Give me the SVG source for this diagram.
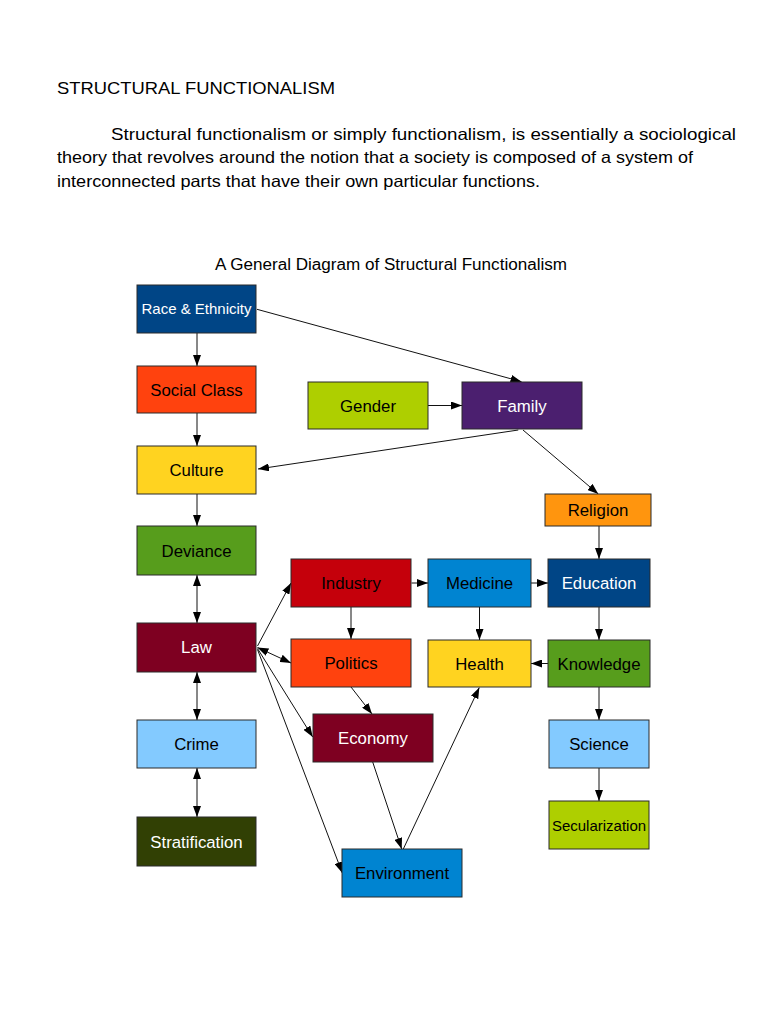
<svg xmlns="http://www.w3.org/2000/svg" width="768" height="1024" viewBox="0 0 768 1024">
<defs>
<style>
.bg{fill:#ffffff}
.doc{font-family:"Liberation Sans",Arial,sans-serif;fill:#000}
.node rect{stroke:#2a2a2a;stroke-width:1}
.node text{font-family:"Liberation Sans",Arial,sans-serif;font-size:16.8px;text-anchor:middle}
.dk{fill:#000}
.lt{fill:#ffffff}
.node text.sm{font-size:15px}
#connectors path{fill:none;stroke:#111;stroke-width:1}
.one{marker-end:url(#ah)}
.two{marker-start:url(#ah);marker-end:url(#ah)}
</style>
<marker id="ah" viewBox="0 0 11 8" refX="11" refY="4" markerWidth="11" markerHeight="8" markerUnits="userSpaceOnUse" orient="auto-start-reverse">
<path d="M0,0 L11,4 L0,8 z" fill="#000"/>
</marker>
</defs>
<rect class="bg" x="0" y="0" width="768" height="1024"/>

<g id="document-text" class="doc">
<text x="57" y="94" font-size="16.5" textLength="278" lengthAdjust="spacingAndGlyphs">STRUCTURAL FUNCTIONALISM</text>
<text x="111" y="139.5" font-size="16.5" textLength="625" lengthAdjust="spacingAndGlyphs">Structural functionalism or simply functionalism, is essentially a sociological</text>
<text x="57" y="163" font-size="16.5" textLength="636" lengthAdjust="spacingAndGlyphs">theory that revolves around the notion that a society is composed of a system of</text>
<text x="57" y="186.5" font-size="16.5" textLength="483" lengthAdjust="spacingAndGlyphs">interconnected parts that have their own particular functions.</text>
<text x="215" y="270" font-size="16" textLength="352" lengthAdjust="spacingAndGlyphs">A General Diagram of Structural Functionalism</text>
</g>

<g id="connectors">
<path class="one" d="M197,333 L197,366"/>
<path class="one" d="M257,309.3 L521.5,381.7"/>
<path class="one" d="M197,413 L197,446"/>
<path class="one" d="M428,405.5 L462,405.5"/>
<path class="one" d="M518.3,430 L258,469"/>
<path class="one" d="M523,430 L598.3,494"/>
<path class="one" d="M197,494 L197,526"/>
<path class="two" d="M197,575 L197,623"/>
<path class="two" d="M197,672 L197,720"/>
<path class="two" d="M197,768 L197,817"/>
<path class="one" d="M257.5,646 L291,583"/>
<path class="two" d="M257.5,647.5 L291,663"/>
<path class="one" d="M257.5,648.5 L312.7,737"/>
<path class="one" d="M257.5,649.5 L342.3,873"/>
<path class="one" d="M351,607 L351,639"/>
<path class="one" d="M411.5,583 L428,583"/>
<path class="one" d="M351,687 L372,714"/>
<path class="one" d="M531,583 L548,583"/>
<path class="one" d="M479.5,607 L479.5,640"/>
<path class="one" d="M599,526 L599,559"/>
<path class="one" d="M599,607 L599,640"/>
<path class="one" d="M548,663.5 L531,663.5"/>
<path class="one" d="M599,687 L599,720"/>
<path class="one" d="M599,768 L599,801"/>
<path class="one" d="M372.7,762 L401.7,849"/>
<path class="one" d="M403.3,849 L479.3,687.5"/>
</g>

<g id="race" class="node"><rect x="137" y="285" width="119" height="48" fill="#004586"/><text class="lt sm" x="196.5" y="314">Race &amp; Ethnicity</text></g>
<g id="social-class" class="node"><rect x="137" y="366" width="119" height="47" fill="#ff420e"/><text class="dk" x="196.5" y="395.5">Social Class</text></g>
<g id="culture" class="node"><rect x="137" y="446" width="119" height="48" fill="#ffd320"/><text class="dk" x="196.5" y="476">Culture</text></g>
<g id="deviance" class="node"><rect x="137" y="526" width="119" height="49" fill="#579d1c"/><text class="dk" x="196.5" y="556.5">Deviance</text></g>
<g id="law" class="node"><rect x="137" y="623" width="119" height="49" fill="#7e0021"/><text class="lt" x="196.5" y="653">Law</text></g>
<g id="crime" class="node"><rect x="137" y="720" width="119" height="48" fill="#83caff"/><text class="dk" x="196.5" y="750">Crime</text></g>
<g id="stratification" class="node"><rect x="137" y="817" width="119" height="49" fill="#314004"/><text class="lt" x="196.5" y="847.5">Stratification</text></g>
<g id="gender" class="node"><rect x="308" y="382" width="120" height="47" fill="#aecf00"/><text class="dk" x="368" y="411.5">Gender</text></g>
<g id="family" class="node"><rect x="462" y="382" width="120" height="47" fill="#4b1f6f"/><text class="lt" x="522" y="411.5">Family</text></g>
<g id="religion" class="node"><rect x="545" y="494" width="106" height="32" fill="#ff950e"/><text class="dk" x="598" y="516">Religion</text></g>
<g id="industry" class="node"><rect x="291" y="559" width="120" height="48" fill="#c5000b"/><text class="dk" x="351" y="589">Industry</text></g>
<g id="medicine" class="node"><rect x="428" y="559" width="103" height="48" fill="#0084d1"/><text class="dk" x="479.5" y="589">Medicine</text></g>
<g id="education" class="node"><rect x="548" y="559" width="102" height="48" fill="#004586"/><text class="lt" x="599" y="589">Education</text></g>
<g id="politics" class="node"><rect x="291" y="639" width="120" height="48" fill="#ff420e"/><text class="dk" x="351" y="669">Politics</text></g>
<g id="health" class="node"><rect x="428" y="640" width="103" height="47" fill="#ffd320"/><text class="dk" x="479.5" y="669.5">Health</text></g>
<g id="knowledge" class="node"><rect x="548" y="640" width="102" height="47" fill="#579d1c"/><text class="dk" x="599" y="669.5">Knowledge</text></g>
<g id="economy" class="node"><rect x="313" y="714" width="120" height="48" fill="#7e0021"/><text class="lt" x="373" y="744">Economy</text></g>
<g id="science" class="node"><rect x="549" y="720" width="100" height="48" fill="#83caff"/><text class="dk" x="599" y="750">Science</text></g>
<g id="secularization" class="node"><rect x="549" y="801" width="100" height="48" fill="#aecf00"/><text class="dk sm" x="599" y="830.5">Secularization</text></g>
<g id="environment" class="node"><rect x="342" y="849" width="120" height="48" fill="#0084d1"/><text class="dk" x="402" y="879">Environment</text></g>
</svg>
